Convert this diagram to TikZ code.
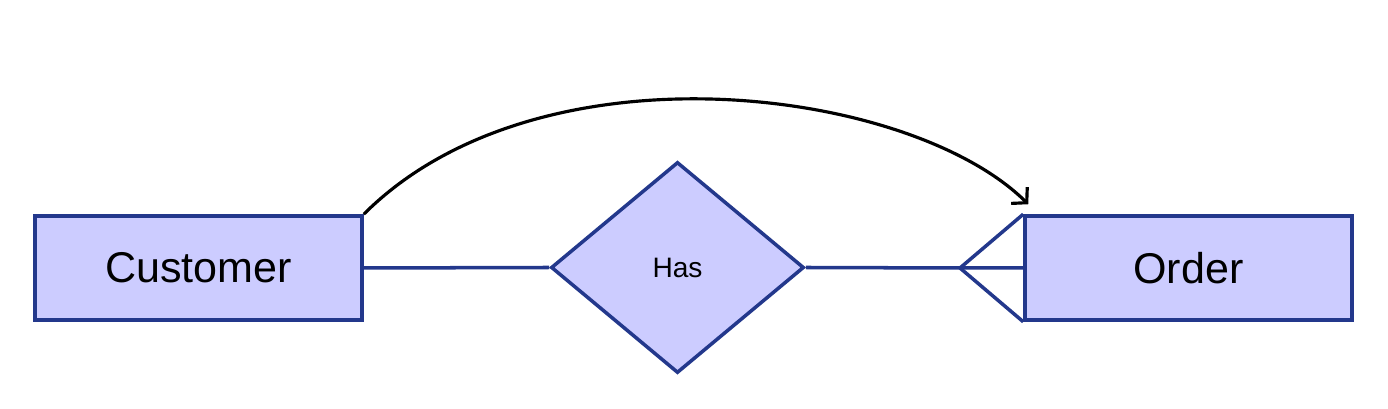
\documentclass[tikz,border=0pt]{standalone}
\usepackage{fontspec}
\setmainfont{Liberation Sans}
\usetikzlibrary{shapes.geometric,arrows.meta}
\definecolor{erfill}{RGB}{204,204,255}
\definecolor{erline}{RGB}{35,56,140}
\begin{document}
\begin{tikzpicture}[
  entity/.style={draw=erline,fill=erfill,line width=2pt,minimum width=6.54cm,minimum height=2.08cm,inner sep=0pt,font=\fontsize{24.5}{28}\selectfont},
  relation/.style={diamond,draw=erline,fill=erfill,line width=2pt,minimum width=5.06cm,minimum height=4.22cm,inner sep=0pt,font=\fontsize{16}{19}\selectfont},
  link/.style={draw=erline,line width=2pt}]
\useasboundingbox (0,0) rectangle (27.76,8.18);
\node[entity] (cust) at (3.97,2.82) {Customer};
\node[relation] (has) at (13.55,2.83) {Has};
\node[entity] (ord) at (23.77,2.82) {Order};
\coordinate (foot) at (19.2,2.82);
\draw[link] (cust.east) -- (has.west);
\draw[link] (has.east) -- (foot) -- (ord.west);
\draw[link] (ord.north west) -- (foot) -- (ord.south west);
\coordinate (tip) at ([xshift=0.1cm,yshift=0.2cm]ord.north west);
\draw[line width=1.8pt,-{Straight Barb[length=6pt,width=13pt]}] (cust.north east) .. controls (10.78,7.40) and (18.2,6.44) .. (tip);
\end{tikzpicture}
\end{document}
